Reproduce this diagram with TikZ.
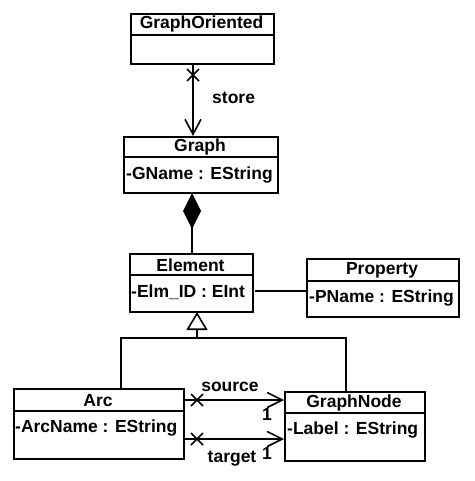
\documentclass[tikz,border=0pt]{standalone}
\usepackage{fontspec}
\setmainfont{Liberation Sans}
\usetikzlibrary{arrows.meta}
\begin{document}
\begin{tikzpicture}[x=1pt,y=-1pt,
  every node/.style={font=\fontsize{17.5}{20}\selectfont\bfseries, inner sep=0pt},
  cls/.style={draw, line width=1.8pt, rectangle, anchor=north west},
  conn/.style={line width=1.8pt},
  txt/.style={anchor=center},
  attr/.style={anchor=west},
  xmark/.style={line width=1.6pt}
]
\useasboundingbox (0,0) rectangle (474,481);
% classes
\node[cls, minimum width=143pt, minimum height=50pt] (go) at (130,13) {};
\draw[conn] (130,35) -- (273,35);
\node[txt] (gotitle) at (201.5,24) {GraphOriented};

\node[cls, minimum width=154pt, minimum height=56pt] (graph) at (123,136) {};
\draw[conn] (123,157) -- (277,157);
\node[txt] (graphtitle) at (200,147) {Graph};
\node[attr] (graphattr) at (126,175) {-GName : EString};

\node[cls, minimum width=123pt, minimum height=58pt] (elem) at (129,253) {};
\draw[conn] (129,275) -- (252,275);
\node[txt] (elemtitle) at (190.5,265) {Element};
\node[attr] (elemattr) at (131,292) {-Elm\_ID : EInt};

\node[cls, minimum width=152pt, minimum height=58pt] (prop) at (306,258) {};
\draw[conn] (306,281) -- (458,281);
\node[txt] (proptitle) at (382,270) {Property};
\node[attr] (propattr) at (309,298) {-PName : EString};

\node[cls, minimum width=170pt, minimum height=70pt] (arc) at (13,388) {};
\draw[conn] (13,411) -- (183,411);
\node[txt] (arctitle) at (98,401) {Arc};
\node[attr] (arcattr) at (15,428) {-ArcName : EString};

\node[cls, minimum width=140pt, minimum height=69pt] (gn) at (284,391) {};
\draw[conn] (284,413) -- (424,413);
\node[txt] (gntitle) at (354,403) {GraphNode};
\node[attr] (gnattr) at (287,430) {-Label : EString};

% store
\coordinate (s1) at (193,63);
\coordinate (s2) at (193,136);
\draw[conn, -{Straight Barb[length=15pt,width=16pt,line width=1.6pt]}] (s1) -- (s2);
\draw[xmark] (187,69) -- (199,81) (199,69) -- (187,81);
\node[attr] (storelbl) at (212,98) {store};

% composition
\coordinate (c1) at (192,253);
\coordinate (c2) at (192,193);
\draw[conn, -{Diamond[length=36pt,width=18pt,fill=black]}] (c1) -- (c2);

% association Element-Property
\draw[conn] (255,291) -- (prop.west |- 0,291);

% generalization
\coordinate (j) at (197,338);
\coordinate (ja) at (121,338);
\coordinate (jg) at (346,338);
\draw[conn] (arc.north -| ja) -- (ja) -- (jg) -- (gn.north -| jg);
\draw[conn, -{Triangle[open,length=18pt,width=21pt,line width=1.6pt]}] (j) -- (197,312);

% source / target
\coordinate (a1) at (183,400);
\coordinate (b1) at (284,400);
\coordinate (a2) at (183,439);
\coordinate (b2) at (284,439);
\draw[conn, -{Straight Barb[length=15pt,width=15pt,line width=1.6pt]}] (a1) -- (b1);
\draw[conn, -{Straight Barb[length=15pt,width=15pt,line width=1.6pt]}] (a2) -- (b2);
\draw[xmark] (191,394) -- (203,406) (203,394) -- (191,406);
\draw[xmark] (191,433) -- (203,445) (203,433) -- (191,445);
\node[txt] (srclbl) at (230,387) {source};
\node[txt] (tgtlbl) at (232,459) {target};
\node[txt] (one1) at (267,414) {1};
\node[txt] (one2) at (267,453) {1};
\end{tikzpicture}
\end{document}
